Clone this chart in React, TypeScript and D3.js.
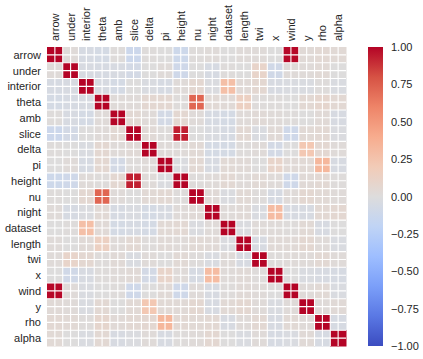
import { useEffect, useRef } from "react";
import { select, scaleBand, scaleLinear, range } from "d3";

const labels = [
  "arrow", "under", "interior", "theta", "amb", "slice", "delta", "pi", "height",
  "nu", "night", "dataset", "length", "twi", "x", "wind", "y", "rho", "alpha",
];

// lower triangle of the correlation matrix (row i, columns 0..i-1)
const lower = [
  [],
  [0.02],
  [-0.05, -0.04],
  [-0.06, -0.05, -0.04],
  [0.01, -0.04, -0.06, 0.02],
  [-0.12, -0.07, 0.0, 0.02, 0.05],
  [0.01, 0.0, -0.03, 0.06, 0.02, 0.03],
  [0.0, 0.02, -0.05, 0.06, -0.07, 0.01, 0.02],
  [-0.11, -0.1, 0.02, 0.01, 0.06, 0.93, 0.02, -0.02],
  [0.01, 0.0, 0.06, 0.72, 0.02, 0.0, 0.04, 0.05, 0.01],
  [0.02, -0.05, -0.02, 0.04, -0.05, -0.03, -0.06, -0.04, 0.02, 0.03],
  [0.0, 0.01, 0.28, 0.03, -0.06, -0.05, -0.06, 0.04, 0.05, -0.02, 0.02],
  [0.02, 0.0, 0.03, 0.14, 0.02, 0.05, 0.01, 0.03, 0.02, 0.04, 0.03, -0.02],
  [0.02, 0.1, 0.06, 0.01, 0.03, -0.03, 0.02, 0.0, 0.04, 0.01, -0.03, 0.02, -0.04],
  [0.0, -0.09, -0.04, 0.01, 0.02, 0.03, -0.07, 0.1, 0.02, -0.05, 0.3, 0.02, 0.03, 0.01],
  [0.99, 0.02, -0.03, 0.0, 0.01, -0.1, 0.0, 0.03, -0.1, 0.02, -0.04, 0.01, 0.03, 0.02, 0.0],
  [0.03, 0.02, -0.03, 0.05, 0.0, 0.04, 0.22, 0.04, 0.03, 0.06, -0.04, 0.04, 0.06, 0.02, -0.03, 0.02],
  [0.05, 0.04, 0.01, 0.08, 0.03, 0.05, 0.06, 0.33, 0.05, 0.04, 0.05, -0.04, 0.02, 0.05, -0.04, 0.04, 0.02],
  [0.04, 0.0, -0.03, 0.05, -0.04, -0.02, 0.02, -0.04, 0.01, 0.02, 0.06, 0.0, -0.03, 0.02, -0.05, -0.03, 0.03, -0.05],
];

const cbarTicks = [1, 0.75, 0.5, 0.25, 0, -0.25, -0.5, -0.75, -1];

// matplotlib coolwarm sampled at 11 points
const coolwarm = [
  "#3b4cc0", "#5a78e4", "#7b9ff9", "#9ebeff", "#c0d4f5", "#dddcdc",
  "#f2cbb7", "#f7ac8e", "#ee8468", "#d65244", "#b40426",
];

const drawHeatmap = (ref: SVGSVGElement) => {
  const svg = select(ref);
  svg.selectAll("*").remove();

  const size = { x0: 47, y0: 47, side: 299 };
  const cells: { r: number; c: number; v: number }[] = [];
  labels.forEach((_, r) =>
    labels.forEach((_, c) => {
      const v = r === c ? 1 : r > c ? lower[r][c] : lower[c][r];
      cells.push({ r, c, v });
    })
  );

  const x = scaleBand<number>()
    .domain(range(labels.length))
    .range([size.x0, size.x0 + size.side]);
  const y = scaleBand<number>()
    .domain(range(labels.length))
    .range([size.y0, size.y0 + size.side]);
  const bw = x.bandwidth();

  const color = scaleLinear<string>()
    .domain(range(11).map((i) => -1 + i * 0.2))
    .range(coolwarm)
    .clamp(true);

  const g = svg.append("g");
  g.selectAll("rect")
    .data(cells)
    .join("rect")
    .attr("x", (d) => x(d.c)!)
    .attr("y", (d) => y(d.r)!)
    .attr("width", bw + 0.5)
    .attr("height", bw + 0.5)
    .attr("fill", (d) => color(d.v));

  // white grid: cell edges and cell centres
  const lines: number[] = [];
  labels.forEach((_, i) => {
    if (i > 0) lines.push(i * bw);
    lines.push(i * bw + bw / 2);
  });
  g.selectAll("line.v")
    .data(lines)
    .join("line")
    .attr("x1", (d) => size.x0 + d)
    .attr("x2", (d) => size.x0 + d)
    .attr("y1", size.y0)
    .attr("y2", size.y0 + size.side)
    .attr("stroke", "white")
    .attr("stroke-width", 1.1);
  g.selectAll("line.h")
    .data(lines)
    .join("line")
    .attr("y1", (d) => size.y0 + d)
    .attr("y2", (d) => size.y0 + d)
    .attr("x1", size.x0)
    .attr("x2", size.x0 + size.side)
    .attr("stroke", "white")
    .attr("stroke-width", 1.1);

  const font = "'Liberation Sans', Arial, sans-serif";
  svg.append("g")
    .selectAll("text")
    .data(labels)
    .join("text")
    .attr("x", 41)
    .attr("y", (_, i) => y(i)! + bw / 2)
    .attr("text-anchor", "end")
    .attr("dominant-baseline", "central")
    .attr("font-family", font)
    .attr("font-size", 11)
    .attr("fill", "#262626")
    .text((d) => d);

  svg.append("g")
    .selectAll("text")
    .data(labels)
    .join("text")
    .attr("transform", (_, i) => `translate(${x(i)! + bw / 2},41) rotate(-90)`)
    .attr("text-anchor", "start")
    .attr("dominant-baseline", "central")
    .attr("font-family", font)
    .attr("font-size", 11)
    .attr("fill", "#262626")
    .text((d) => d);

  // colorbar
  const cb = { x: 368, w: 15 };
  const cy = scaleLinear().domain([1, -1]).range([size.y0, size.y0 + size.side]);
  const grad = svg
    .append("defs")
    .append("linearGradient")
    .attr("id", "cw")
    .attr("x1", 0)
    .attr("x2", 0)
    .attr("y1", 1)
    .attr("y2", 0);
  grad
    .selectAll("stop")
    .data(coolwarm)
    .join("stop")
    .attr("offset", (_, i) => i / 10)
    .attr("stop-color", (d) => d);
  svg
    .append("rect")
    .attr("x", cb.x)
    .attr("y", cy(1))
    .attr("width", cb.w)
    .attr("height", cy(-1) - cy(1))
    .attr("fill", "url(#cw)");

  svg.append("g")
    .selectAll("text")
    .data(cbarTicks)
    .join("text")
    .attr("x", cb.x + cb.w + 8)
    .attr("y", (d) => cy(d))
    .attr("dominant-baseline", "central")
    .attr("font-family", font)
    .attr("font-size", 11)
    .attr("fill", "#262626")
    .text((d) => d.toFixed(2).replace("-", "\u2212"));
};

export default function App() {
  const ref = useRef<SVGSVGElement>(null);

  useEffect(() => {
    if (ref.current) drawHeatmap(ref.current);
  }, []);

  return (
    <svg
      ref={ref}
      width={423}
      height={359}
      style={{ position: "absolute", left: 0, top: 0, background: "white" }}
    />
  );
}
